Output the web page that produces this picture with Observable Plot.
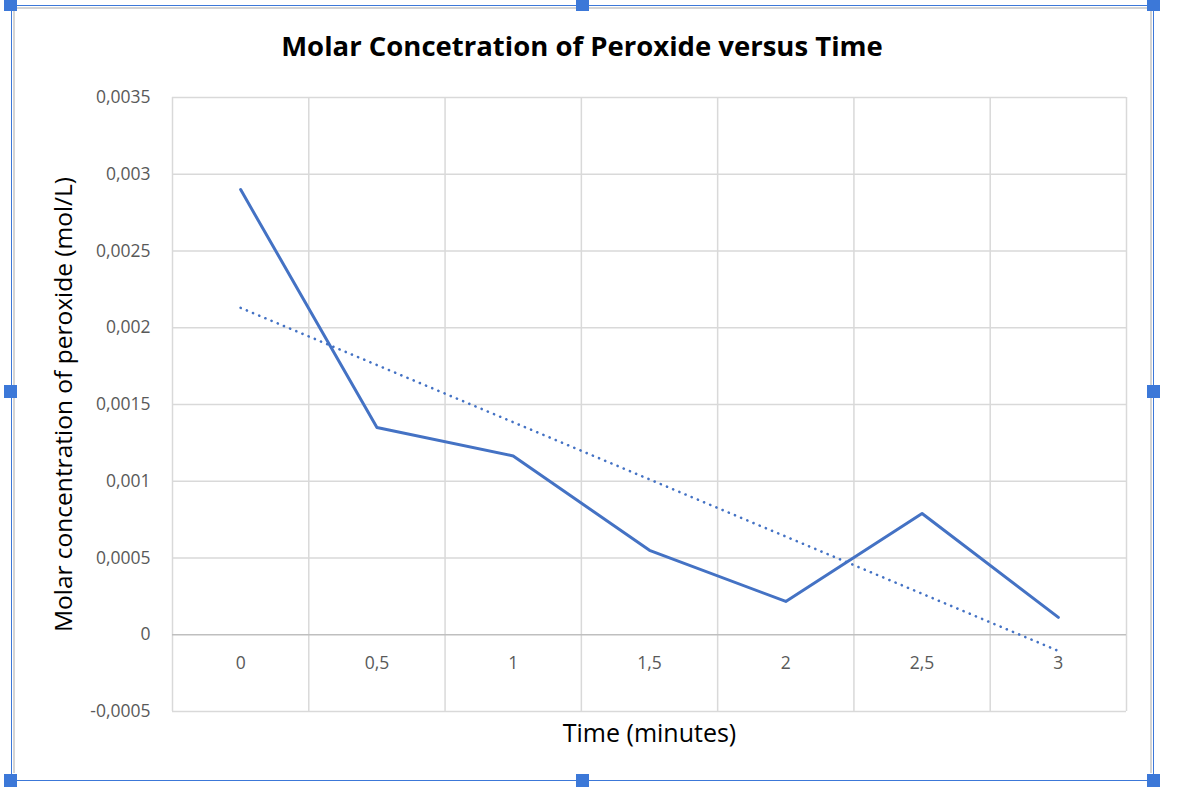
<!DOCTYPE html>
<html>
<head>
<meta charset="utf-8">
<script src="https://cdn.jsdelivr.net/npm/d3@7"></script>
<script src="https://cdn.jsdelivr.net/npm/@observablehq/plot@0.6"></script>
<style>
  body { margin: 0; background: #fff; font-family: "Open Sans", sans-serif; }
  #wrap { position: relative; width: 1178px; height: 790px; overflow: hidden; background: #fff; }
  #title { position: absolute; left: 0; top: 29px; width: 1164px; text-align: center;
           font-weight: bold; font-size: 27.5px; line-height: 34px; color: #000; }
  #chart { position: absolute; left: 0; top: 80px; }
  .gline { position: absolute; background: #d4d4d4; }
  .bline { position: absolute; background: #3c78d8; }
  .handle { position: absolute; width: 13px; height: 13px; background: #3c78d8; }
</style>
</head>
<body>
<div id="wrap">
  <div class="gline" style="left:13px;top:7px;width:1139px;height:2px"></div>
  <div class="gline" style="left:13px;top:7px;width:2px;height:766px"></div>
  <div class="gline" style="left:1150px;top:7px;width:2px;height:766px"></div>
  <div class="bline" style="left:11px;top:5px;width:1143px;height:1px"></div>
  <div class="bline" style="left:11px;top:780px;width:1143px;height:1px"></div>
  <div class="bline" style="left:11px;top:5px;width:1px;height:776px"></div>
  <div class="bline" style="left:1153px;top:5px;width:1px;height:776px"></div>
  <div class="handle" style="left:4px;top:-2px"></div>
  <div class="handle" style="left:576px;top:-2px"></div>
  <div class="handle" style="left:1147px;top:-2px"></div>
  <div class="handle" style="left:4px;top:385px"></div>
  <div class="handle" style="left:1147px;top:385px"></div>
  <div class="handle" style="left:4px;top:774px"></div>
  <div class="handle" style="left:576px;top:774px"></div>
  <div class="handle" style="left:1147px;top:774px"></div>
  <div id="title">Molar Concetration of Peroxide versus Time</div>
  <div id="chart"></div>
</div>
<script>
const times = [0, 0.5, 1, 1.5, 2, 2.5, 3];
const concentration = [0.0029, 0.00135, 0.001165, 0.00055, 0.000217, 0.00079, 0.000113];
const yTicks = [-0.0005, 0, 0.0005, 0.001, 0.0015, 0.002, 0.0025, 0.003, 0.0035];
const xBounds = [-0.25, 0.25, 0.75, 1.25, 1.75, 2.25, 2.75, 3.25];
const yLabel = "Molar concentration of peroxide (mol/L)";
const xLabel = "Time (minutes)";

const data = times.map((t, i) => ({t, c: concentration[i]}));
const fmt = d => String(d).replace(".", ",");

const plot = Plot.plot({
  width: 1178,
  height: 710,
  marginLeft: 172,
  marginRight: 52,
  marginTop: 17,
  marginBottom: 79,
  style: {fontFamily: "'Open Sans', sans-serif", background: "transparent"},
  x: {type: "linear", domain: [-0.25, 3.25], axis: null},
  y: {domain: [-0.0005, 0.0035], axis: null},
  marks: [
    Plot.ruleY(yTicks.filter(d => d !== 0), {stroke: "#d9d9d9", strokeWidth: 1.5}),
    Plot.ruleX(xBounds, {stroke: "#d9d9d9", strokeWidth: 1.5}),
    Plot.ruleY([0], {stroke: "#bfbfbf", strokeWidth: 1.5}),
    Plot.axisY({ticks: yTicks, tickSize: 0, tickPadding: 22, tickFormat: fmt, fontSize: 17.5, color: "#595959", label: null}),
    Plot.text(times, {x: d => d, y: 0, dy: 29, text: fmt, fill: "#595959", fontSize: 17.5}),
    Plot.text([yLabel], {frameAnchor: "left", dx: -108, rotate: -90, textAnchor: "middle", fontSize: 24.5, fill: "#000"}),
    Plot.text([xLabel], {frameAnchor: "bottom", dy: 30, fontSize: 25, fill: "#000"}),
    Plot.linearRegressionY(data, {x: "t", y: "c", ci: 0, stroke: "#4472c4", strokeWidth: 2.6, strokeDasharray: "0.1 6.6", strokeLinecap: "round"}),
    Plot.line(data, {x: "t", y: "c", stroke: "#4472c4", strokeWidth: 3})
  ]
});
document.getElementById("chart").appendChild(plot);
</script>
</body>
</html>
